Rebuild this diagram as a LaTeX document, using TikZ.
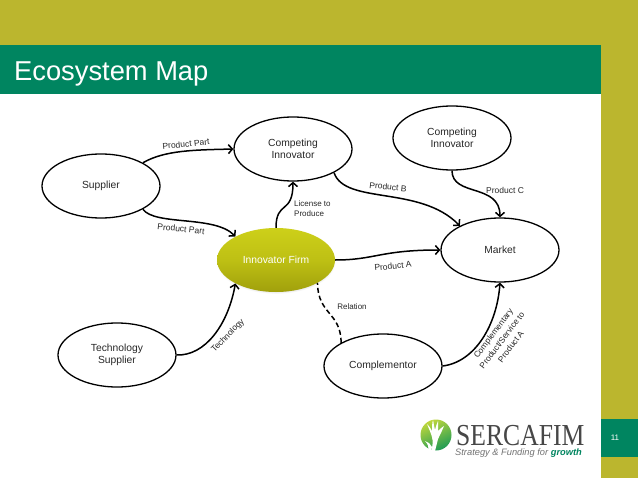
\documentclass[tikz,border=0pt]{standalone}
\usepackage{fontspec}
\usepackage{graphicx}
\setmainfont{Liberation Sans}
\newfontfamily\logofont{Liberation Serif}
\usetikzlibrary{arrows.meta,shapes.geometric,shadows}
\definecolor{olivebg}{RGB}{187,182,46}
\definecolor{bandgreen}{RGB}{0,133,96}
\definecolor{inktext}{RGB}{40,40,40}
\definecolor{firmtop}{RGB}{205,208,25}
\definecolor{firmmid}{RGB}{190,192,20}
\definecolor{firmbot}{RGB}{160,160,12}
\definecolor{leaflight}{RGB}{190,214,60}
\definecolor{leafdark}{RGB}{30,155,85}
\tikzset{
  eco/.style={ellipse,draw=black,line width=1.3pt,fill=white,minimum width=118pt,minimum height=64pt,inner sep=0pt,align=center,font=\fontsize{10.3}{12.6}\selectfont,text=inktext},
  firm/.style={ellipse,minimum width=118pt,minimum height=64pt,inner sep=0pt,align=center,font=\fontsize{10.3}{12.6}\selectfont,text=white,top color=firmtop,bottom color=firmbot,middle color=firmmid,circular drop shadow={shadow xshift=0pt,shadow yshift=-1.5pt,opacity=.3,shadow scale=1.01}},
  conn/.style={line width=1.5pt,black,-{Straight Barb[length=4pt,width=9pt,line width=1.5pt]}},
  lab/.style={font=\fontsize{8.5}{10}\selectfont,text=inktext,inner sep=0pt,align=center},
}
\begin{document}
\begin{tikzpicture}[x=1pt,y=-1pt]
\useasboundingbox (0,0) rectangle (638,479);
% slide background
\fill[olivebg] (0,0) rectangle (638,478);
\fill[white] (0,94) rectangle (601,479);
\fill[white] (601,478) rectangle (638,479);
\fill[bandgreen] (0,45) rectangle (601,94);
\fill[bandgreen] (601,419) rectangle (638,457);
\node[text=white,font=\fontsize{27.3}{30}\selectfont,anchor=base west,inner sep=0pt] (title) at (14,80.5) {Ecosystem Map};
\node[text=white,font=\fontsize{8}{10}\selectfont,inner sep=0pt] (pagenum) at (615,438) {11};
% ellipses
\node[eco] (sup) at (101,186) {Supplier};
\node[eco] (ci1) at (293,149) {Competing\\Innovator};
\node[eco] (ci2) at (452,138) {Competing\\Innovator};
\node[eco] (mkt) at (500,250) {Market};
\node[firm] (firm) at (276,260) {Innovator Firm};
\node[eco] (tech) at (117,355) {Technology\\Supplier};
\node[eco] (comp) at (383,366) {Complementor};
% connectors
\draw[conn] (sup.29) .. controls (165,150) and (195,150) .. (ci1.west);
\draw[conn] (sup.-29) .. controls (155,226) and (215,215) .. (firm.150);
\draw[conn] (firm.north) .. controls (276,200) and (293,215) .. (ci1.south);
\draw[conn] (ci1.-30) .. controls (345,205) and (420,185) .. (mkt.149);
\draw[conn] (ci2.south) .. controls (452,197) and (500,183) .. (mkt.north);
\draw[conn] (firm.east) .. controls (375,260) and (380,250) .. (mkt.west);
\draw[conn] (tech.east) .. controls (205,356) and (228,325) .. (firm.-150);
\draw[line width=1.5pt,dash pattern=on 5pt off 3pt] (comp.151) .. controls (341,312) and (318,315) .. (firm.-29);
\draw[conn] (comp.east) .. controls (475,362) and (497,325) .. (mkt.south);
% labels
\node[lab,rotate=6] (l1) at (186,144) {Product Part};
\node[lab,rotate=-6] (l2) at (181,229) {Product Part};
\node[lab,align=left,anchor=north west,font=\fontsize{8}{10}\selectfont] (l3) at (294,201) {License to\\Produce};
\node[lab,rotate=-6] (l4) at (388,187) {Product B};
\node[lab] (l5) at (505,190) {Product C};
\node[lab,rotate=6] (l6) at (393,266) {Product A};
\node[lab,font=\fontsize{8}{10}\selectfont] (l7) at (352,307) {Relation};
\node[lab,rotate=46] (l8) at (228,336) {Technology};
\node[lab,rotate=53,font=\fontsize{8.4}{11}\selectfont] (l9) at (502,340) {Complementary\\Product/Service to\\Product A};
% logo
\shade[top color=leaflight,bottom color=leafdark,shading angle=25] (436,435) circle (15.5);
\fill[white] (431,451) .. controls (435,440) and (431,434) .. (427,424) .. controls (430,427) and (431,429) .. (432,431)
  .. controls (432,427) and (432,423) .. (433,420) .. controls (434,424) and (434,427) .. (435,430)
  .. controls (436,426) and (437,423) .. (438,421) .. controls (438,425) and (438,428) .. (438,431)
  .. controls (440,429) and (442,427) .. (444,426) .. controls (442,431) and (440,435) .. (438,439)
  .. controls (437,443) and (436,447) .. (435,451) -- cycle;
\fill[white] (425,441) .. controls (428,442) and (431,444) .. (432,447) -- (431,451) -- (428,451) .. controls (429,447) and (428,444) .. (425,441) -- cycle;
\node[text=black!72,anchor=base west,inner sep=0pt] (logo) at (456,445) {\scalebox{.84}[1]{\logofont\fontsize{30.5}{32}\selectfont SERCAFIM}};
\node[font=\itshape\fontsize{9.3}{11}\selectfont,text=black!55,anchor=base west,inner sep=0pt] (tag) at (455,455) {Strategy \& Funding for \textcolor{bandgreen}{\bfseries growth}};
\end{tikzpicture}
\end{document}
